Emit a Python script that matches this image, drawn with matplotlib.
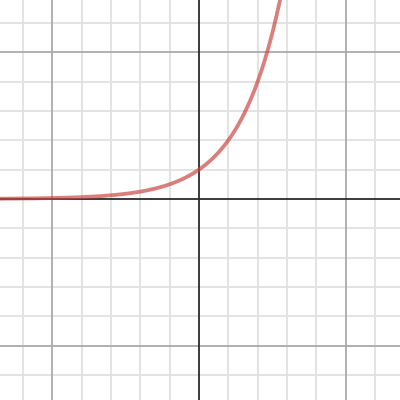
import numpy as np
import matplotlib
matplotlib.use("Agg")
import matplotlib.pyplot as plt

# Graph of y = base ** x (Desmos-style)
base = 2.0
x_range = [-6.78, 6.85]
y_range = [-6.85, 6.78]
minor_step = 1
major_step = 5

fig = plt.figure(figsize=(4, 4), dpi=100)
ax = fig.add_axes([0, 0, 1, 1])
ax.set_xlim(*x_range)
ax.set_ylim(*y_range)
ax.set_axis_off()

px = 0.72
# minor grid
for v in np.arange(-6, 7, minor_step):
    if v % major_step == 0:
        continue
    ax.axvline(v, color="#e0e0e0", lw=1.8 * px, zorder=1)
    ax.axhline(v, color="#e0e0e0", lw=1.8 * px, zorder=1)
# major grid
for v in [-5, 5]:
    ax.axvline(v, color="#aaaaaa", lw=1.8 * px, zorder=2)
    ax.axhline(v, color="#aaaaaa", lw=1.8 * px, zorder=2)
# axes
ax.axvline(0, color="#2a2a2a", lw=1.8 * px, zorder=3)
ax.axhline(0, color="#2a2a2a", lw=1.8 * px, zorder=3)

xs = np.linspace(x_range[0], 3.0, 600)
ax.plot(xs, base ** xs, color="#c74440", alpha=0.68, lw=3.8 * px,
        solid_capstyle="round", zorder=4)

fig.savefig("out.png", dpi=100)
